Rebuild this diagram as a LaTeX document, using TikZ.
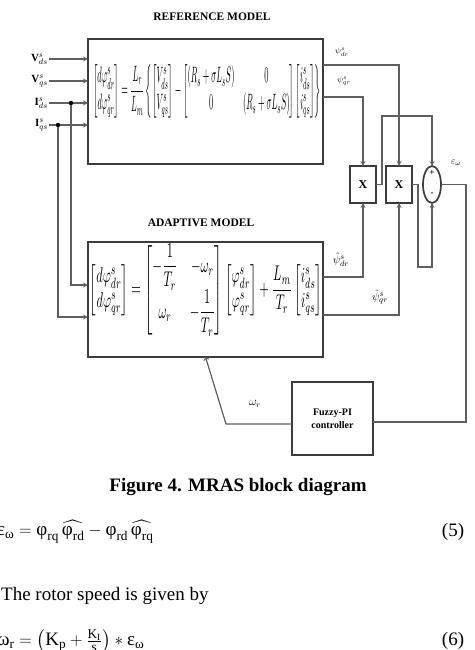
\documentclass[tikz,border=0pt]{standalone}
\usepackage{amsmath}
\usepackage{amssymb}
\usepackage{fontspec}
\setmainfont{Liberation Serif}
\usepackage{tikz}
\usetikzlibrary{arrows,shapes,calc,positioning}
\definecolor{gris}{RGB}{95,95,95}
\definecolor{grisOsc}{RGB}{60,60,60}
\tikzstyle{wire}  =[line width=1.2pt, draw=gris, >=stealth]
\tikzstyle{block} =[draw=grisOsc, line width=1.7pt,
                    inner sep=0pt, outer sep=0pt]
\tikzstyle{dot}   =[circle, fill=black, minimum size=4.5pt,
                    inner sep=0pt, outer sep=0pt]
\tikzstyle{lbl}   =[inner sep=1pt, font=\fontsize{11}{12}\selectfont]
\tikzstyle{big}   =[inner sep=0pt, font=\fontsize{19}{22}\selectfont]

\begin{document}
\begin{tikzpicture}[x=1pt,y=-1pt]
    \useasboundingbox (0,0) rectangle (474,650);

        % models
        \draw (212,17) node (tref) [font=\bfseries\fontsize{11.5}{13}\selectfont] {REFERENCE MODEL};
        \draw (201,223) node (tada) [font=\bfseries\fontsize{11.5}{13}\selectfont] {ADAPTIVE MODEL};
        \draw (88,39) node (ref) [block, anchor=north west, minimum width=235pt, minimum height=125pt] {};
        \draw (88,242) node (ada) [block, anchor=north west, minimum width=235pt, minimum height=115pt] {};
        \draw (207,91) node (eqref) [inner sep=0pt] {\resizebox*{228pt}{54pt}{$\begin{bmatrix}d\varphi^s_{dr}\\ d\varphi^s_{qr}\end{bmatrix}=\dfrac{L_r}{L_m}\left\{\begin{bmatrix}V^s_{ds}\\ V^s_{qs}\end{bmatrix}-\begin{bmatrix}(R_s+\sigma L_sS) & 0\\ 0 & (R_s+\sigma L_sS)\end{bmatrix}\begin{bmatrix}i^s_{ds}\\ i^s_{qs}\end{bmatrix}\right\}$}};
        \draw (206,290) node (eqada) [inner sep=0pt] {\resizebox*{232pt}{92pt}{$\begin{bmatrix}d\varphi^s_{dr}\\ d\varphi^s_{qr}\end{bmatrix}=\begin{bmatrix}-\dfrac{1}{T_r} & -\omega_r\\[4pt] \omega_r & -\dfrac{1}{T_r}\end{bmatrix}\begin{bmatrix}\varphi^s_{dr}\\ \varphi^s_{qr}\end{bmatrix}+\dfrac{L_m}{T_r}\begin{bmatrix}i^s_{ds}\\ i^s_{qs}\end{bmatrix}$}};

        % error part
        \draw (363,184.5) node (x1) [block, minimum width=26pt, minimum height=37pt, font=\bfseries\fontsize{12}{14}\selectfont] {X};
        \draw (399,184.5) node (x2) [block, minimum width=26pt, minimum height=37pt, font=\bfseries\fontsize{12}{14}\selectfont] {X};
        \draw (432,184.5) node (sum) [block, ellipse, minimum width=18pt, minimum height=37pt] {};
        \draw (432,173) node (plus) [font=\bfseries\fontsize{9}{10}\selectfont] {+};
        \draw (432,194) node (minus) [font=\bfseries\fontsize{9}{10}\selectfont] {-};
        \draw (332.5,418.5) node (fpi) [block, minimum width=81pt, minimum height=73pt, align=center, font=\bfseries\fontsize{10}{13}\selectfont] {Fuzzy-PI\\controller};

        % inputs
        \foreach \i/\y/\t/\s in {1/59/V/ds,2/81/V/qs,3/103/I/ds,4/125/I/qs} {
            \draw (49,\y) node (in\i) [lbl, anchor=east] {\textbf{\t}$^{s}_{\s}$};
            \draw [wire,->] (in\i.east) -- (ref.west |- in\i.east);
        }
        \draw (71,103) node (b1) [dot] {};
        \draw (58,125) node (b2) [dot] {};
        \coordinate (a1) at (88,285);
        \coordinate (a2) at (88,317);
        \draw [wire,->] (b1) |- (a1);
        \draw [wire,->] (b2) |- (a2);

        % fluxes
        \coordinate (r1) at (323,65);
        \coordinate (r2) at (323,97);
        \coordinate (h1) at (323,277);
        \coordinate (h2) at (323,315);
        \foreach \i/\j in {r1/x2.north,r2/x1.north,h1/x1.south,h2/x2.south}
            \draw [wire,->] (\i) -| (\j);
        \draw (342,52) node (lr1) [font=\fontsize{8}{9}\selectfont] {$\psi^{s}_{dr}$};
        \draw (344,81) node (lr2) [font=\fontsize{8}{9}\selectfont] {$\psi^{s}_{qr}$};
        \draw (341,260) node (lh1) [font=\fontsize{11}{12}\selectfont] {$\hat{\psi}^{s}_{dr}$};
        \draw (380,297) node (lh2) [font=\fontsize{11}{12}\selectfont] {$\hat{\psi}^{s}_{qr}$};

        % loop
        \coordinate (k1) at (382,116);
        \coordinate (k2) at (418,267);
        \coordinate (k3) at (466,422);
        \coordinate (k4) at (226,424);
        \draw [wire,->] (x1.east) -| (k1) -| (sum.north);
        \draw [wire,->] (x2.east) -| (k2) -| (sum.south);
        \draw [wire] (sum.east) -| (k3) -- (fpi.east |- k3);
        \draw [wire,-to] (fpi.west |- k4) -- (k4) -- (ada.south);
        \draw (456,163) node (leps) [font=\fontsize{10}{12}\selectfont] {$\varepsilon_{\omega}$};
        \draw (255,404) node (lw) [font=\fontsize{12}{14}\selectfont] {$\omega_r$};

        % text below
        \draw (238,487) node (cap) [big, font=\bfseries\fontsize{19}{22}\selectfont] {Figure 4. MRAS block diagram};
        \draw (-3,532) node (eq5) [big, anchor=west] {$\text{ε}_{\text{ω}} = \text{φ}_{\text{rq}}\,\widehat{\text{φ}_{\text{rd}}} - \text{φ}_{\text{rd}}\,\widehat{\text{φ}_{\text{rq}}}$};
        \draw (453,532) node (n5) [big] {(5)};
        \draw (1,596) node (txt) [big, anchor=west] {The rotor speed is given by};
        \draw (-3,641) node (eq6) [big, anchor=west] {$\text{ω}_{\text{r}} = \left(\text{K}_{\text{p}} + \frac{\text{K}_{\text{I}}}{\text{s}}\right) * \text{ε}_{\text{ω}}$};
        \draw (453,641) node (n6) [big] {(6)};

\end{tikzpicture}
\end{document}
